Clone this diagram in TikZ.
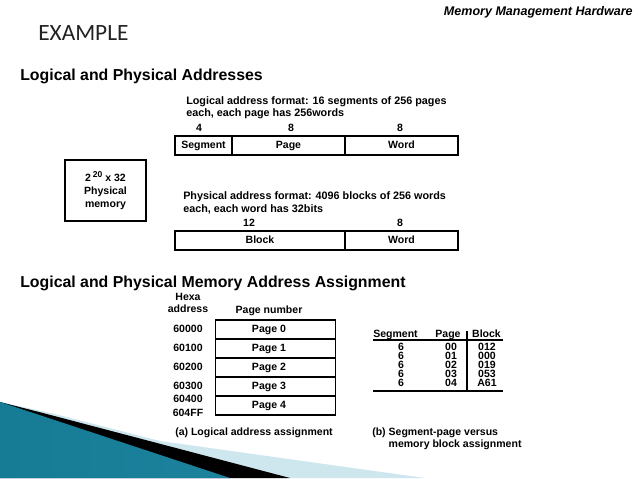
\documentclass[tikz,border=0pt]{standalone}
\usepackage{fontspec}
\setmainfont{Liberation Sans}
\newfontfamily\slidefont{Carlito}
\usetikzlibrary{positioning}
\definecolor{TealDark}{RGB}{22,124,150}
\definecolor{TealLight}{RGB}{84,182,214}
\definecolor{StripeBlue}{RGB}{206,230,238}
\definecolor{TitleGray}{RGB}{34,34,34}

\begin{document}
\begin{tikzpicture}[x=0.75pt,y=-0.75pt,
  txt/.style={inner sep=0pt,text height=5.7pt,text depth=1.6pt,font=\fontsize{7.9}{9}\selectfont\bfseries},
  head/.style={inner sep=0pt,anchor=west,font=\fontsize{11.9}{14}\selectfont\bfseries},
  field/.style={draw,line width=1.2pt,minimum height=14.25pt,inner sep=0pt,
    text height=5.7pt,text depth=1.6pt,font=\fontsize{7.9}{9}\selectfont\bfseries},
  pagebox/.style={field,minimum width=90pt}]
  \useasboundingbox (0,0) rectangle (638,478);

  % slide decoration
  \fill[StripeBlue] (0,402) -- (55,414) -- (160,441) -- (360,469) -- (425,478) -- (0,478) -- cycle;
  \fill[black] (0,402) -- (43,413) -- (290,478) -- (0,478) -- cycle;
  \shade[left color=TealDark,middle color=TealLight,right color=TealDark!90!TealLight]
    (0,402) -- (230,478) -- (0,478) -- cycle;

  % titles
  \node[inner sep=0pt,anchor=east,font=\fontsize{9.4}{11}\selectfont\bfseries\itshape] (hdr) at (633,12) {Memory Management Hardware};
  \node[inner sep=0pt,anchor=west,text=TitleGray,font=\slidefont\fontsize{17.5}{20}\selectfont] (example) at (38,33) {EXAMPLE};
  \node[head] (sec1) at (20,76) {Logical and Physical Addresses};
  \node[head] (sec2) at (20,283) {Logical and Physical Memory Address Assignment};

  % logical address format
  \node[inner sep=0pt,anchor=west,align=left,font=\fontsize{8.1}{9}\selectfont\bfseries] (logdesc) at (186,108) {Logical address format: 16 segments of 256 pages\\each, each page has 256words};
  \node[field,minimum width=42.75pt] (seg) at (203.5,145.5) {Segment};
  \node[field,minimum width=84.75pt] (page) at (288.5,145.5) {Page};
  \node[field,minimum width=84.75pt] (word) at (401.5,145.5) {Word};
  \node[txt] (nseg) at (199,129) {4};
  \node[txt] (npage) at (291,129) {8};
  \node[txt] (nword) at (400,129) {8};

  % physical memory
  \node[draw,line width=1.2pt,minimum width=60.75pt,minimum height=45.75pt,inner sep=0pt,align=center,
    font=\fontsize{7.9}{9.75}\selectfont\bfseries] (pmem) at (105.5,190.5)
    {2\,\raisebox{0.75ex}{\fontsize{6.4}{7}\selectfont 20} x 32\\Physical\\memory};

  % physical address format
  \node[inner sep=0pt,anchor=west,align=left,font=\fontsize{8.1}{9.75}\selectfont\bfseries] (phydesc) at (183,202.5) {Physical address format: 4096 blocks of 256 words\\each, each word has 32bits};
  \node[field,minimum width=127.5pt] (block) at (260,240.5) {Block};
  \node[field,minimum width=84.75pt] (pword) at (401.5,240.5) {Word};
  \node[txt] (nblock) at (249,224) {12};
  \node[txt] (npword) at (400,224) {8};

  % logical address assignment
  \node[inner sep=0pt,align=center,font=\fontsize{7.9}{9}\selectfont\bfseries] (hexa) at (188,303) {Hexa\\address};
  \node[txt] (pgnum) at (269,311) {Page number};
  \foreach \addr [count=\i from 0] in {60000,60100,60200,60300} {
    \node[txt] (addr\i) at (188,{330+19*\i}) {\addr};
  }
  \node[txt] (addr4) at (188,400) {60400};
  \node[txt] (addr5) at (188,414) {604FF};
  \foreach \i in {0,...,4} {
    \node[pagebox] (pg\i) at (275.5,{329.5+19*\i}) {};
    \node[txt] at ([xshift=-4.9pt]pg\i.center) {Page \i};
  }
  \node[txt,anchor=west] (capa) at (175,433) {(a) Logical address assignment};

  % segment-page versus block table
  \node[txt] (tseg) at (395.5,335) {Segment};
  \node[txt] (tpage) at (448,335) {Page};
  \node[txt] (tblock) at (486.5,335) {Block};
  \foreach \pg/\blk [count=\i from 0] in {00/012,01/000,02/019,03/053,04/A61} {
    \node[txt] (rs\i) at (401,{348+8.9*\i}) {6};
    \node[txt] (rp\i) at (451,{348+8.9*\i}) {\pg};
    \node[txt] (rb\i) at (487,{348+8.9*\i}) {\blk};
  }
  \draw[line width=1.1pt] (373,340) -- (503,340);
  \draw[line width=1.1pt] (373,391) -- (503,391);
  \draw[line width=1.1pt] (467,331) -- (467,392);
  \node[inner sep=0pt,anchor=west,align=left,font=\fontsize{7.9}{9}\selectfont\bfseries] (capb) at (372,439) {(b) Segment-page versus\\\phantom{(b) }memory block assignment};
\end{tikzpicture}
\end{document}
